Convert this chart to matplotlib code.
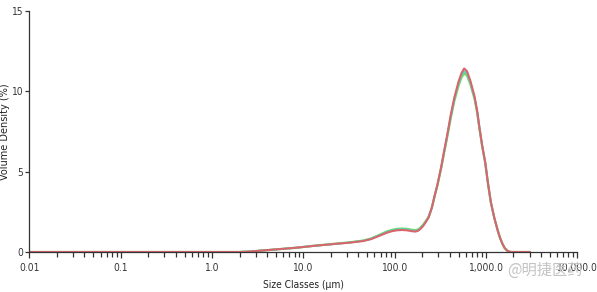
import matplotlib
matplotlib.use("Agg")
import matplotlib.pyplot as plt
from matplotlib.ticker import FixedLocator, LogLocator, NullFormatter

# size classes (um) and volume density (%)
size_um = [0.01, 2.0, 2.6, 3.7, 5.5, 8.5, 13, 20, 32, 45, 55, 64, 73, 82, 94,
           106, 120, 136, 152, 168, 180, 190, 205, 220, 235, 255, 275, 294,
           323, 348, 379, 410, 449, 500, 540, 577, 620, 676, 748, 800, 849,
           910, 980, 1050, 1130, 1230, 1350, 1430, 1517, 1600, 1694, 1800,
           1890, 3000]
red = [0, 0, 0.03, 0.10, 0.18, 0.27, 0.38, 0.48, 0.58, 0.68, 0.80, 0.95, 1.08,
       1.20, 1.30, 1.35, 1.37, 1.35, 1.30, 1.27, 1.32, 1.42, 1.62, 1.88, 2.15,
       2.75, 3.55, 4.20, 5.30, 6.30, 7.40, 8.50, 9.60, 10.60, 11.15, 11.43,
       11.25, 10.64, 9.70, 8.80, 7.73, 6.60, 5.60, 4.30, 3.10, 2.15, 1.30,
       0.85, 0.50, 0.25, 0.10, 0.02, 0, 0]
green = [0, 0, 0.03, 0.10, 0.18, 0.27, 0.39, 0.49, 0.60, 0.71, 0.84, 1.00,
         1.15, 1.28, 1.38, 1.44, 1.46, 1.44, 1.39, 1.36, 1.40, 1.50, 1.70,
         1.94, 2.18, 2.76, 3.52, 4.15, 5.22, 6.18, 7.25, 8.30, 9.38, 10.35,
         10.88, 11.12, 10.98, 10.42, 9.55, 8.68, 7.65, 6.55, 5.57, 4.28, 3.09,
         2.15, 1.30, 0.85, 0.50, 0.25, 0.10, 0.02, 0, 0]
cyan = [0, 0, 0.03, 0.10, 0.18, 0.27, 0.38, 0.48, 0.59, 0.70, 0.82, 0.98,
        1.12, 1.24, 1.34, 1.40, 1.42, 1.40, 1.35, 1.31, 1.36, 1.46, 1.66,
        1.91, 2.16, 2.75, 3.54, 4.18, 5.26, 6.24, 7.32, 8.40, 9.48, 10.47,
        11.01, 11.26, 11.10, 10.52, 9.62, 8.74, 7.69, 6.58, 5.58, 4.29, 3.10,
        2.15, 1.30, 0.85, 0.50, 0.25, 0.10, 0.02, 0, 0]

x_ticks = [0.01, 0.1, 1, 10, 100, 1000, 10000]
x_labels = ["0.01", "0.1", "1.0", "10.0", "100.0", "1,000.0", "10,000.0"]
y_ticks = [0, 5, 10, 15]

plt.rcParams['font.family'] = ['DejaVu Sans']
plt.rcParams['font.stretch'] = 'condensed'

fig = plt.figure(figsize=(5.97, 2.92), dpi=100)
ax = fig.add_axes([0.0494, 0.137, 0.9176, 0.825])

ax.plot(size_um, green, color='#74dc5c', lw=1.6)
ax.plot(size_um, cyan, color='#55d2c4', lw=1.4)
ax.plot(size_um, red, color='#d9646c', lw=1.5)

ax.set_xscale('log')
ax.set_xlim(0.01, 10000)
ax.set_ylim(0, 15)
ax.set_xticks(x_ticks)
ax.set_xticklabels(x_labels)
ax.xaxis.set_minor_locator(LogLocator(base=10, subs=range(2, 10), numticks=20))
ax.xaxis.set_minor_formatter(NullFormatter())
ax.yaxis.set_major_locator(FixedLocator(y_ticks))

for s in ['top', 'right']:
    ax.spines[s].set_visible(False)
for s in ['left', 'bottom']:
    ax.spines[s].set_color('#333333')
    ax.spines[s].set_linewidth(0.9)

ax.tick_params(axis='x', which='major', length=4.5, width=0.9, colors='#333333',
               labelsize=7.3, pad=3.5)
ax.tick_params(axis='x', which='minor', length=3.5, width=0.9, colors='#333333')
ax.tick_params(axis='y', which='major', length=3, width=0.9, colors='#333333',
               labelsize=7.3, pad=1.5)

ax.set_xlabel('Size Classes (µm)', fontsize=7.3, color='#222222', labelpad=5)
ax.set_ylabel('Volume Density (%)', fontsize=7, color='#222222',
              stretch='normal')
ax.yaxis.set_label_coords(-0.035, 0.5)

# watermark
fig.text(0.912, 0.075, '@明捷医药', fontsize=11, color='#c4c4c4', ha='center',
         va='center', family=['Noto Sans CJK SC', 'DejaVu Sans'])

fig.savefig('out.png', dpi=100)
